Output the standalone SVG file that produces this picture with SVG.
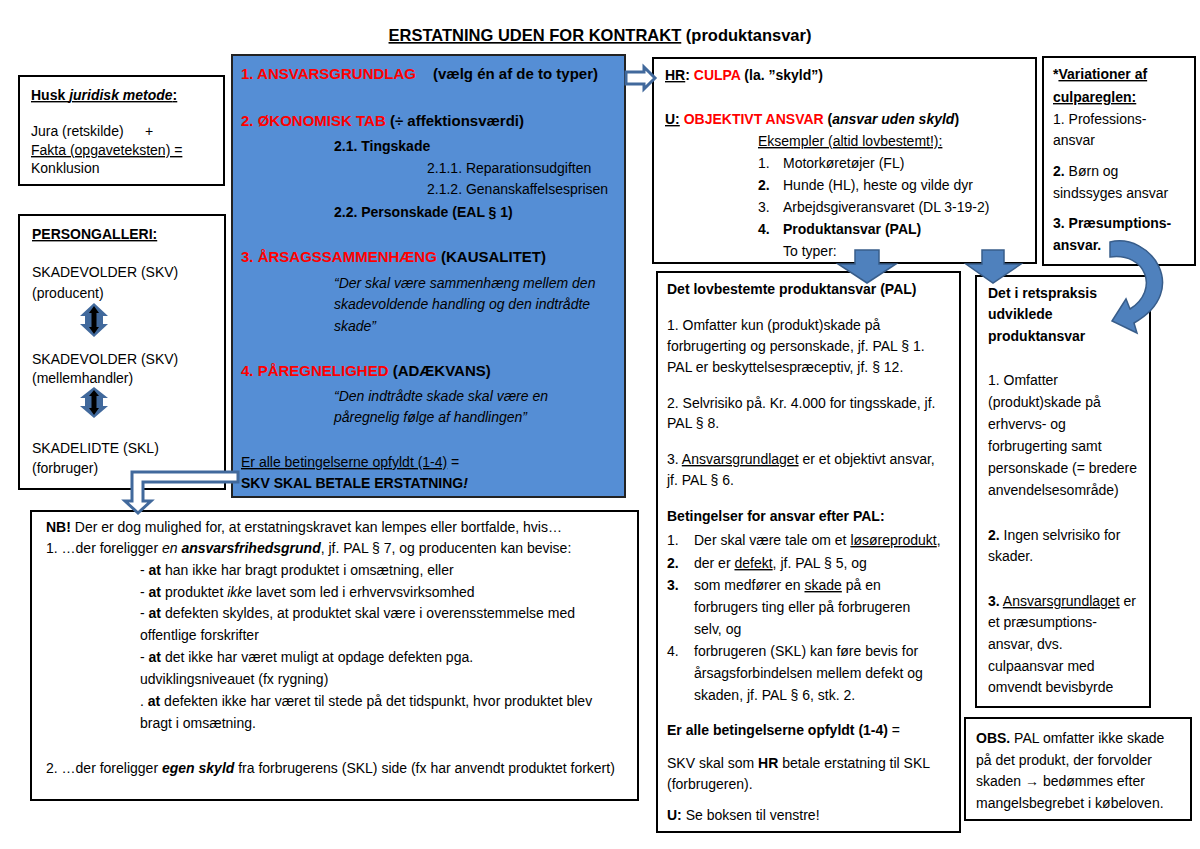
<svg xmlns="http://www.w3.org/2000/svg" width="1200" height="849" viewBox="0 0 1200 849">
<style>
text{font-family:"Liberation Sans",Arial,sans-serif;font-size:14px;fill:#000}
.b{font-weight:bold}
.i{font-style:italic}
.u{text-decoration:underline}
.r{fill:#FF0000}
.h{font-size:15px;font-weight:bold}
.box{fill:#fff;stroke:#000;stroke-width:2}
.blk{fill:#4F81BD;stroke:#385D8A;stroke-width:1.5}
.hol{fill:#fff;stroke:#41699C;stroke-width:3;stroke-linejoin:miter}
</style>
<rect width="1200" height="849" fill="#fff"/>

<g id="title">
<text x="600" y="41" text-anchor="middle" style="font-size:16.5px" class="b"><tspan class="u">ERSTATNING UDEN FOR KONTRAKT</tspan> (produktansvar)</text>
</g>

<g id="box-husk">
<rect class="box" x="19" y="76" width="205" height="109"/>
<text x="31" y="100" class="b u">Husk <tspan class="i">juridisk metode</tspan>:</text>
<text x="31" y="136">Jura (retskilde)</text>
<text x="145" y="136">+</text>
<text x="31" y="155" class="u">Fakta (opgaveteksten) =</text>
<text x="31" y="173">Konklusion</text>
</g>

<g id="box-persongalleri">
<rect class="box" x="19" y="215" width="206" height="274"/>
<text x="32" y="239" class="b u">PERSONGALLERI:</text>
<text x="32" y="277">SKADEVOLDER (SKV)</text>
<text x="32" y="298">(producent)</text>
<text x="32" y="364">SKADEVOLDER (SKV)</text>
<text x="32" y="383">(mellemhandler)</text>
<text x="32" y="453">SKADELIDTE (SKL)</text>
<text x="32" y="473">(forbruger)</text>
<g id="icon-updown-1">
<polygon fill="#41699C" points="94,303 108,316 103,316 103,324 108,324 94,337 80,324 85,324 85,316 80,316"/>
<polygon fill="#000" points="94,306 99,313 96.5,313 96.5,327 99,327 94,334 89,327 91.5,327 91.5,313 89,313"/>
</g>
<g id="icon-updown-2">
<polygon fill="#41699C" points="94,387 108,398 103,398 103,406 108,406 94,418 80,406 85,406 85,398 80,398"/>
<polygon fill="#000" points="94,390 99,396 96.5,396 96.5,408 99,408 94,415 89,408 91.5,408 91.5,396 89,396"/>
</g>
</g>

<g id="box-betingelser">
<rect x="232" y="55" width="393" height="442" fill="#558ED5" stroke="#222" stroke-width="2"/>
<text x="241" y="79" class="h"><tspan class="r">1. ANSVARSGRUNDLAG</tspan>   <tspan x="433">(vælg én af de to typer)</tspan></text>
<text x="241" y="126" class="h"><tspan class="r">2. ØKONOMISK TAB</tspan> (÷ affektionsværdi)</text>
<text x="334" y="151" class="b">2.1. Tingskade</text>
<text x="427" y="173">2.1.1. Reparationsudgiften</text>
<text x="427" y="194">2.1.2. Genanskaffelsesprisen</text>
<text x="334" y="217" class="b">2.2. Personskade (EAL § 1)</text>
<text x="241" y="262" class="h"><tspan class="r">3. ÅRSAGSSAMMENHÆNG</tspan> (KAUSALITET)</text>
<text x="334" y="288" class="i">“Der skal være sammenhæng mellem den</text>
<text x="334" y="309" class="i">skadevoldende handling og den indtrådte</text>
<text x="334" y="331" class="i">skade”</text>
<text x="241" y="376" class="h"><tspan class="r">4. PÅREGNELIGHED</tspan> (ADÆKVANS)</text>
<text x="334" y="401" class="i">“Den indtrådte skade skal være en</text>
<text x="334" y="422" class="i">påregnelig følge af handlingen”</text>
<text x="241" y="467"><tspan class="u">Er alle betingelserne opfyldt (1-4)</tspan> =</text>
<text x="241" y="488" class="b">SKV SKAL BETALE ERSTATNING<tspan class="i">!</tspan></text>
</g>

<g id="box-culpa">
<rect class="box" x="653" y="58" width="383" height="205"/>
<text x="665" y="80" class="b"><tspan class="u">HR</tspan>: <tspan class="r">CULPA</tspan> (la. ”skyld”)</text>
<text x="665" y="124" class="b"><tspan class="u">U:</tspan> <tspan class="r">OBJEKTIVT ANSVAR</tspan> (<tspan class="i">ansvar uden skyld</tspan>)</text>
<text x="758" y="146" class="u">Eksempler (altid lovbestemt!):</text>
<text x="758" y="168">1.</text><text x="783" y="168">Motorkøretøjer (FL)</text>
<text x="758" y="190" class="b">2.</text><text x="783" y="190">Hunde (HL), heste og vilde dyr</text>
<text x="758" y="212">3.</text><text x="783" y="212">Arbejdsgiveransvaret (DL 3-19-2)</text>
<text x="758" y="234" class="b">4.</text><text x="783" y="234" class="b">Produktansvar (PAL)</text>
<text x="783" y="256">To typer:</text>
</g>

<g id="box-variationer">
<rect class="box" x="1043" y="57" width="152" height="208"/>
<text x="1053" y="79" class="b">*<tspan class="u">Variationer af</tspan></text>
<text x="1053" y="102" class="b u">culpareglen:</text>
<text x="1053" y="124">1. Professions-</text>
<text x="1053" y="145">ansvar</text>
<text x="1053" y="176"><tspan class="b">2.</tspan> Børn og</text>
<text x="1053" y="198">sindssyges ansvar</text>
<text x="1053" y="228" class="b">3. Præsumptions-</text>
<text x="1053" y="250" class="b">ansvar.</text>
</g>

<g id="box-pal">
<rect class="box" x="657" y="272" width="303" height="560"/>
<text x="667" y="294" class="b">Det lovbestemte produktansvar (PAL)</text>
<text x="667" y="330">1. Omfatter kun (produkt)skade på</text>
<text x="667" y="351">forbrugerting og personskade, jf. PAL § 1.</text>
<text x="667" y="372">PAL er beskyttelsespræceptiv, jf. § 12.</text>
<text x="667" y="408">2. Selvrisiko på. Kr. 4.000 for tingsskade, jf.</text>
<text x="667" y="428">PAL § 8.</text>
<text x="667" y="464">3. <tspan class="u">Ansvarsgrundlaget</tspan> er et objektivt ansvar,</text>
<text x="667" y="485">jf. PAL § 6.</text>
<text x="667" y="521" class="b">Betingelser for ansvar efter PAL:</text>
<text x="667" y="545">1.</text><text x="694" y="545">Der skal være tale om et <tspan class="u">løsøreprodukt</tspan>,</text>
<text x="667" y="568" class="b">2.</text><text x="694" y="568">der er <tspan class="u">defekt</tspan>, jf. PAL § 5, og</text>
<text x="667" y="590" class="b">3.</text><text x="694" y="590">som medfører en <tspan class="u">skade</tspan> på en</text>
<text x="694" y="612">forbrugers ting eller på forbrugeren</text>
<text x="694" y="634">selv, og</text>
<text x="667" y="656">4.</text><text x="694" y="656">forbrugeren (SKL) kan føre bevis for</text>
<text x="694" y="678">årsagsforbindelsen mellem defekt og</text>
<text x="694" y="700">skaden, jf. PAL § 6, stk. 2.</text>
<text x="667" y="735"><tspan class="b">Er alle betingelserne opfyldt (1-4)</tspan> =</text>
<text x="667" y="768">SKV skal som <tspan class="b">HR</tspan> betale erstatning til SKL</text>
<text x="667" y="789">(forbrugeren).</text>
<text x="667" y="820"><tspan class="b">U:</tspan> Se boksen til venstre!</text>
</g>

<g id="box-retspraksis">
<rect class="box" x="976" y="276" width="174" height="431"/>
<text x="988" y="298" class="b">Det i retspraksis</text>
<text x="988" y="319" class="b">udviklede</text>
<text x="988" y="341" class="b">produktansvar</text>
<text x="988" y="385">1. Omfatter</text>
<text x="988" y="407">(produkt)skade på</text>
<text x="988" y="429">erhvervs- og</text>
<text x="988" y="451">forbrugerting samt</text>
<text x="988" y="473">personskade (= bredere</text>
<text x="988" y="495">anvendelsesområde)</text>
<text x="988" y="540"><tspan class="b">2.</tspan> Ingen selvrisiko for</text>
<text x="988" y="561">skader.</text>
<text x="988" y="606"><tspan class="b">3.</tspan> <tspan class="u">Ansvarsgrundlaget</tspan> er</text>
<text x="988" y="627">et præsumptions-</text>
<text x="988" y="649">ansvar, dvs.</text>
<text x="988" y="671">culpaansvar med</text>
<text x="988" y="692">omvendt bevisbyrde</text>
</g>

<g id="box-obs">
<rect class="box" x="965" y="718" width="226" height="102"/>
<text x="976" y="743"><tspan class="b">OBS.</tspan> PAL omfatter ikke skade</text>
<text x="976" y="765">på det produkt, der forvolder</text>
<text x="976" y="786">skaden → bedømmes efter</text>
<text x="976" y="808">mangelsbegrebet i købeloven.</text>
</g>

<g id="box-nb">
<rect class="box" x="31" y="511" width="607" height="289"/>
<text x="46" y="532"><tspan class="b">NB!</tspan> Der er dog mulighed for, at erstatningskravet kan lempes eller bortfalde, hvis…</text>
<text x="46" y="553">1. …der foreligger <tspan class="i">en </tspan><tspan class="b i">ansvarsfrihedsgrund</tspan>, jf. PAL § 7, og producenten kan bevise:</text>
<text x="140" y="575">- <tspan class="b">at</tspan> han ikke har bragt produktet i omsætning, eller</text>
<text x="140" y="597">- <tspan class="b">at</tspan> produktet <tspan class="i">ikke</tspan> lavet som led i erhvervsvirksomhed</text>
<text x="140" y="618">- <tspan class="b">at</tspan> defekten skyldes, at produktet skal være i overensstemmelse med</text>
<text x="140" y="640">offentlige forskrifter</text>
<text x="140" y="662">- <tspan class="b">at</tspan> det ikke har været muligt at opdage defekten pga.</text>
<text x="140" y="684">udviklingsniveauet (fx rygning)</text>
<text x="140" y="706">. <tspan class="b">at</tspan> defekten ikke har været til stede på det tidspunkt, hvor produktet blev</text>
<text x="140" y="728">bragt i omsætning.</text>
<text x="46" y="773">2. …der foreligger <tspan class="b i">egen skyld</tspan> fra forbrugerens (SKL) side (fx har anvendt produktet forkert)</text>
</g>

<g id="connectors">
<polygon id="arrow-to-culpa" class="hol" points="626,72 644,72 644,67 655,78 644,89 644,84 626,84"/>
<polygon id="arrow-to-nb" class="hol" points="238,472 132,472 132,501 125,501 138,513 151,501 143,501 143,482 238,482"/>
<polygon id="arrow-to-pal" class="blk" points="855,250 879,250 879,264 896,264 867,283 838,264 855,264"/>
<polygon id="arrow-to-retspraksis" class="blk" points="982,250 1004,250 1004,264 1021,264 993,283 966,264 982,264"/>
<path id="arrow-curved" class="blk" d="M1110,242 C1150,232 1192,290 1134,323 L1137,333 L1112,321 L1126,299 L1130,309 C1160,290 1146,252 1110,257 Z"/>
</g>
</svg>
